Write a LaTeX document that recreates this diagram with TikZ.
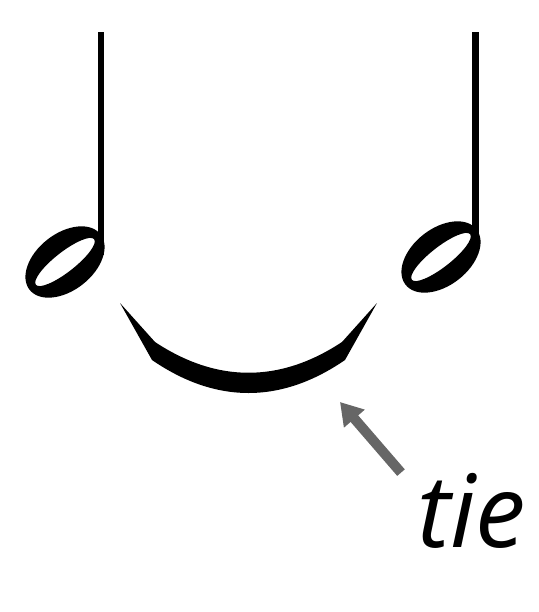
\documentclass[tikz,border=0pt]{standalone}
\usepackage{fontspec}
\setmainfont{Open Sans}
\usetikzlibrary{arrows.meta}

\tikzset{
	notehead/.style={fill=black,even odd rule},
	pointer/.style={draw=black!60,line width=10pt,-{Triangle[length=22pt,width=26pt]}},
	tielabel/.style={anchor=base west,inner sep=0pt,font=\fontsize{101}{101}\selectfont\itshape}
}

\begin{document}
\begin{tikzpicture}[x=1pt,y=-1pt]
		\useasboundingbox (0,0) rectangle (538,612);
		\def\stemtop{32}
		\def\tilt{38}
		% left half note
			\fill[notehead,rotate around={\tilt:(65,262)}] (65,262) ellipse [x radius=45,y radius=28.5] (65,262) ellipse [x radius=37,y radius=10];
			\fill (97.5,\stemtop) rectangle (104,255);
		% right half note
			\fill[notehead,rotate around={\tilt:(441,257)}] (441,257) ellipse [x radius=45,y radius=28.5] (441,257) ellipse [x radius=37,y radius=10];
			\fill (472,\stemtop) rectangle (478.5,250);
		% tie
			\fill (120,303) -- (152,360) .. controls (216,404) and (281,404) .. (345,360) -- (377,303)
				-- (342,342) .. controls (280,383) and (217,383) .. (155,342) -- cycle;
		% label and arrow
			\node (label) [tielabel] at (417,547) {tie};
			\coordinate (tietip) at (340,402);
			\draw [pointer] ([xshift=-16pt]label.north west) -- (tietip);
	\end{tikzpicture}
\end{document}
